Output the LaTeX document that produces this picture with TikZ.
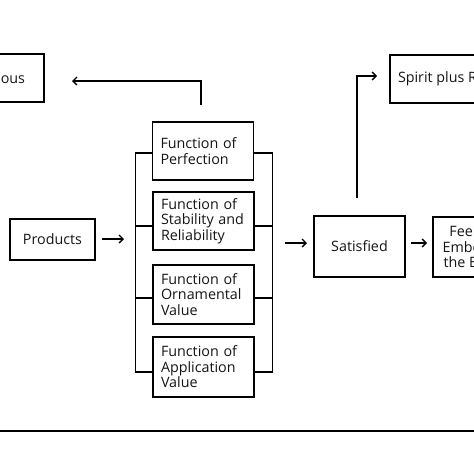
\documentclass[tikz,border=0pt]{standalone}
\usepackage{fontspec}
\setmainfont{Open Sans}
\usetikzlibrary{arrows.meta}
\begin{document}
\begin{tikzpicture}[x=1pt,y=-1pt,
  box/.style={draw=black,line width=1.1pt,inner xsep=8pt,inner ysep=2pt,outer sep=0pt,
    font=\fontsize{14.3}{15.5}\selectfont,text=black!92},
  fbox/.style={box,text width=85pt,align=left},
  conn/.style={line width=1.3pt,draw=black},
  arr/.style={conn,-{Straight Barb[length=4pt,width=8pt,line width=1.3pt]}}]
\useasboundingbox (0,0) rectangle (474,474);
\clip (0,0) rectangle (474,474);
% nodes
\node[box,anchor=east,minimum height=48pt,inner xsep=19pt] (left) at (44,78) {Luxurious};
\node[box,anchor=west,minimum height=48pt] (spirit) at (390,79) {Spirit plus Reality};
\node[fbox,minimum height=58pt] (perf) at (203,151) {Function of\\Perfection};
\node[fbox,minimum height=58pt] (stab) at (203.5,221) {Function of\\Stability and\\Reliability};
\node[fbox,minimum height=59pt] (orn) at (203.5,294.5) {Function of\\Ornamental\\Value};
\node[fbox,minimum height=60pt] (app) at (203.5,367) {Function of\\Application\\Value};
\node[box,minimum width=85pt,minimum height=41pt] (prod) at (52.5,239.5) {Products};
\node[box,minimum width=91pt,minimum height=61pt] (sat) at (359.5,246.5) {Satisfied};
\node[box,anchor=west,minimum width=87pt,minimum height=60pt,align=center,inner xsep=4pt] (feel) at (433,247) {Feelings\\Embodied\\the Brand};
% brackets
\draw[conn] ([yshift=-2pt]perf.west) -- ++(-17,0) |- ([yshift=-5pt]app.west);
\draw[conn] ([yshift=-5pt]stab.west) -- ++(-17,0);
\draw[conn] ([yshift=-3.5pt]orn.west) -- ++(-17,0);
\draw[conn] ([yshift=-2pt]perf.east) -- ++(19,0) |- ([yshift=-5pt]app.east);
\draw[conn] ([yshift=-5pt]stab.east) -- ++(18,0);
\draw[conn] ([yshift=-3.5pt]orn.east) -- ++(18,0);
% arrows
\coordinate (lb) at (136,239);
\coordinate (rb) at (272,243);
\coordinate (lt) at (72,81);
\coordinate (rt) at (377,76);
\draw[arr,shorten <=7pt,shorten >=12pt] (prod.east |- lb) -- (lb);
\draw[arr,shorten <=13pt,shorten >=7pt] (rb) -- (sat.west |- rb);
\draw[arr,shorten <=6pt,shorten >=6pt] (sat.east |- rb) -- (feel.west |- rb);
\draw[arr] ([xshift=-2pt,yshift=17pt]perf.north) |- (lt);
\draw[arr] ([xshift=-2.5pt,yshift=18pt]sat.north) |- (rt);
% bottom rule
\coordinate (bl) at (0,431);
\coordinate (br) at (474,431);
\draw[line width=2pt] (bl) -- (br);
\end{tikzpicture}
\end{document}
